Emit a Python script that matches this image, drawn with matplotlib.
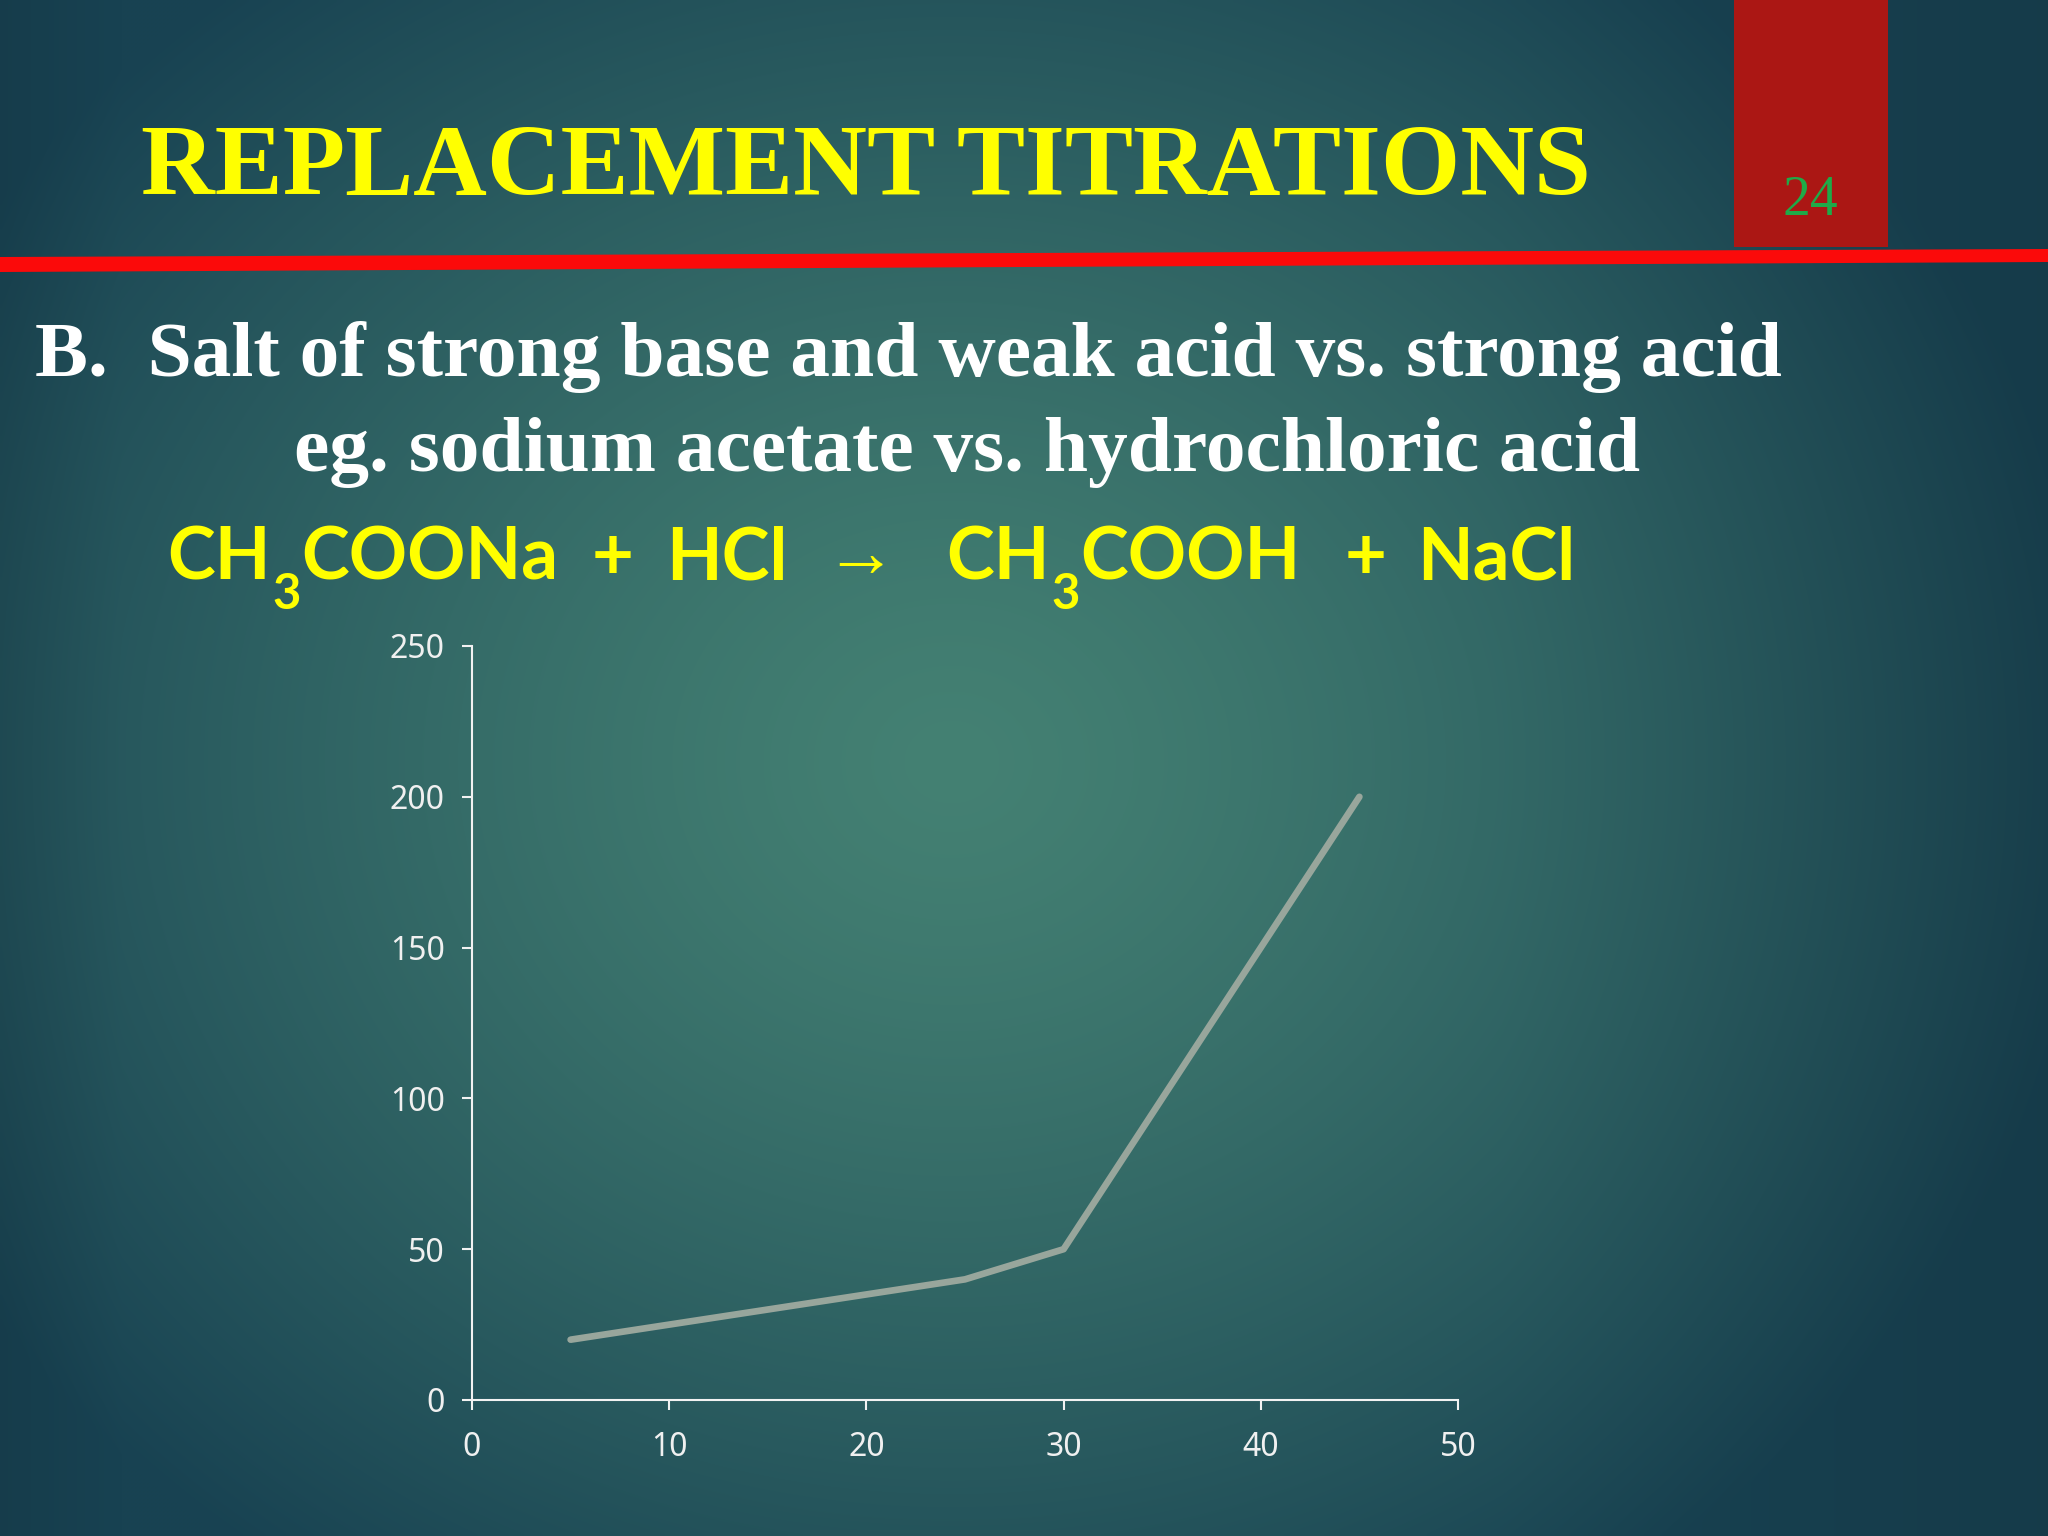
import numpy as np
import matplotlib
matplotlib.use("Agg")
import matplotlib.pyplot as plt
from matplotlib.patches import Rectangle, Polygon

# ---------------- data ----------------
volume_ml = [5, 10, 15, 20, 25, 30, 35, 40, 45]
reading = [20, 25, 30, 35, 40, 50, 100, 150, 200]
x_ticks = [0, 10, 20, 30, 40, 50]
y_ticks = [0, 50, 100, 150, 200, 250]

title_text = "REPLACEMENT TITRATIONS"
subtitle_1 = "B.  Salt of strong base and weak acid vs. strong acid"
subtitle_2 = "eg. sodium acetate vs. hydrochloric acid"
slide_number = "24"
# equation segments: (text, is_subscript)
eq_left = [("CH", False), ("3", True), ("COONa", False)]
eq_plus = "+"
eq_hcl = "HCl"
eq_arrow = "\u2192"
eq_right = [("CH", False), ("3", True), ("COOH", False)]
eq_nacl = "NaCl"

# ---------------- figure ----------------
W, H = 2048, 1536
fig = plt.figure(figsize=(W / 100, H / 100), dpi=100)
bg = fig.add_axes([0, 0, 1, 1])
bg.set_xlim(0, W)
bg.set_ylim(H, 0)
bg.axis("off")

# background radial gradient
yy, xx = np.mgrid[0:H:4, 0:W:4].astype(float)
cx, cy = 950, 760
d = np.sqrt(((xx - cx) / 1150.0) ** 2 + ((yy - cy) / 1000.0) ** 2)
d = np.clip(d, 0, 1)
t = d ** 1.3
c_center = np.array([0x44, 0x81, 0x73]) / 255.0
c_edge = np.array([0x18, 0x42, 0x52]) / 255.0
img = c_center * (1 - t[..., None]) + c_edge * t[..., None]
# slightly darker towards the far left / right edges
shade = 1 - 0.10 * np.clip((xx - 1500) / 548.0, 0, 1) - 0.08 * np.clip((120 - xx) / 120.0, 0, 1)
img = img * shade[..., None]
bg.imshow(img, extent=[0, W, H, 0], aspect="auto", interpolation="bilinear", zorder=0)

# red tab and red rule
bg.add_patch(Rectangle((1734, -5), 154, 252, facecolor="#ab1714", edgecolor="none", zorder=2))
bg.add_patch(Polygon([(0, 257), (W, 249), (W, 262), (0, 272)], closed=True,
                     facecolor="#fb0a0a", edgecolor="none", zorder=3))

renderer = fig.canvas.get_renderer()


def fit_width(txt, target):
    for _ in range(3):
        w = txt.get_window_extent(renderer).width
        txt.set_fontsize(txt.get_fontsize() * target / w)


# slide number
bg.text(1810, 215, slide_number, color="#1faa48", fontsize=40,
        family="Liberation Serif", ha="center", va="baseline", zorder=4)

# title
tt = bg.text(141, 195, title_text, color="#ffff00", fontsize=74, fontweight="bold",
             family="Liberation Serif", ha="left", va="baseline", zorder=4)
fit_width(tt, 1591 - 141)

s1 = bg.text(35, 376, subtitle_1, color="white", fontsize=55, fontweight="bold",
             family="Liberation Serif", ha="left", va="baseline", zorder=4)
fit_width(s1, 1783 - 35)
s2 = bg.text(294, 471, subtitle_2, color="white", fontsize=55, fontweight="bold",
             family="Liberation Serif", ha="left", va="baseline", zorder=4)
fit_width(s2, 1639 - 294)

# equation
eq_fs = 52
eq_font = ["Lato", "DejaVu Sans"]
eq_color = "#ffff00"
base_y = 579


def place_segments(x0, segs):
    x = x0
    for s, sub in segs:
        if sub:
            tx = bg.text(x + 2, base_y + 30, s, color=eq_color, fontsize=eq_fs * 0.68,
                         fontweight="bold", family=eq_font, ha="left", va="baseline", zorder=4)
        else:
            tx = bg.text(x, base_y, s, color=eq_color, fontsize=eq_fs,
                         fontweight="bold", family=eq_font, ha="left", va="baseline", zorder=4)
        ext = tx.get_window_extent(renderer)
        x = x + ext.width + (2 if sub else 0)


place_segments(167, eq_left)
bg.text(592, base_y, eq_plus, color=eq_color, fontsize=eq_fs, fontweight="bold",
        family=eq_font, ha="left", va="baseline", zorder=4)
bg.text(666, base_y, eq_hcl, color=eq_color, fontsize=eq_fs, fontweight="bold",
        family=eq_font, ha="left", va="baseline", zorder=4)
bg.text(860, base_y - 20, eq_arrow, color=eq_color, fontsize=eq_fs, fontweight="normal",
        family=["Liberation Serif", "DejaVu Serif"], ha="center", va="center", zorder=4)
place_segments(946, eq_right)
bg.text(1345, base_y, eq_plus, color=eq_color, fontsize=eq_fs, fontweight="bold",
        family=eq_font, ha="left", va="baseline", zorder=4)
bg.text(1417, base_y, eq_nacl, color=eq_color, fontsize=eq_fs, fontweight="bold",
        family=eq_font, ha="left", va="baseline", zorder=4)

# ---------------- chart ----------------
ax = fig.add_axes([472 / W, 1 - 1400 / H, (1458 - 472) / W, (1400 - 646) / H])
ax.patch.set_alpha(0)
ax.plot(volume_ml, reading, color="#98a69c", linewidth=4.8,
        solid_capstyle="round", solid_joinstyle="round", zorder=3)
ax.set_xlim(0, 50)
ax.set_ylim(0, 250)
ax.set_xticks(x_ticks)
ax.set_yticks(y_ticks)
ax.set_xticklabels([str(v) for v in x_ticks])
ax.set_yticklabels([str(v) for v in y_ticks])
for side in ("top", "right"):
    ax.spines[side].set_visible(False)
for side in ("left", "bottom"):
    ax.spines[side].set_color("#f2f2f2")
    ax.spines[side].set_linewidth(1.5)
ax.tick_params(axis="both", direction="out", length=7.5, width=1.5, color="#f2f2f2",
               labelcolor="#f0f0f0", labelsize=23)
ax.tick_params(axis="x", pad=15)
ax.tick_params(axis="y", pad=12)
for lab in ax.get_xticklabels() + ax.get_yticklabels():
    lab.set_family("Noto Sans")

fig.savefig("out.png", dpi=100)
